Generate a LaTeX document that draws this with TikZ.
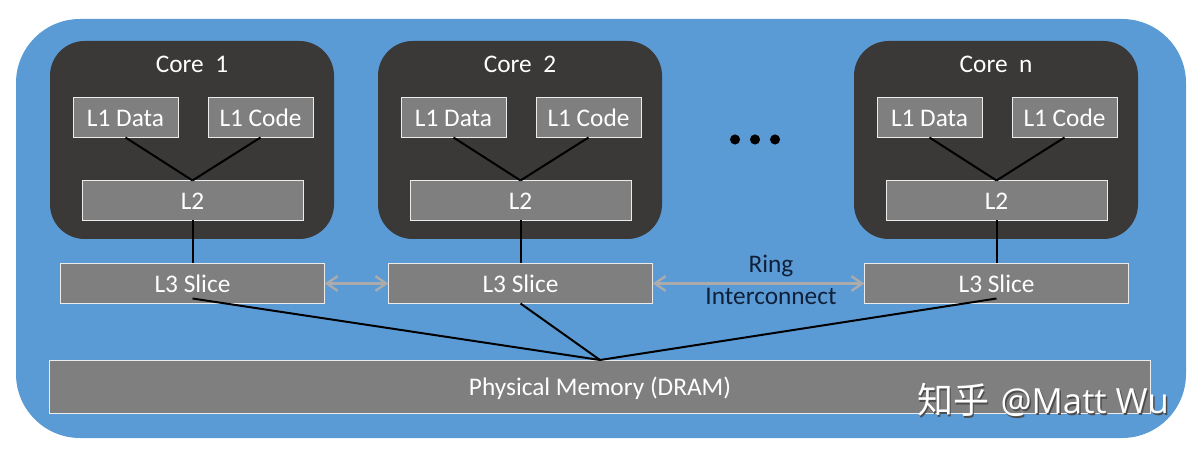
\documentclass[tikz,border=0pt]{standalone}
\usepackage{fontspec}
\setmainfont{Carlito}
\newfontfamily\cjkwm{Noto Sans CJK SC}
\newfontfamily\latwm{Open Sans}
\usetikzlibrary{arrows.meta,calc}
\definecolor{panelblue}{HTML}{5B9BD5}
\definecolor{coredark}{HTML}{3B3838}
\definecolor{boxgray}{HTML}{7F7F7F}
\definecolor{ringgray}{HTML}{ABABAB}
\definecolor{ringtext}{HTML}{10203A}
\tikzset{
  x=0.75pt,y=-0.75pt,
  panel/.style={fill=panelblue,draw=none,rounded corners=48pt,minimum width=877.5pt,minimum height=314.25pt,inner sep=0pt,outer sep=0pt},
  core/.style={fill=coredark,draw=none,rounded corners=26pt,minimum width=213pt,minimum height=148.5pt,inner sep=0pt,outer sep=0pt},
  cache/.style 2 args={fill=boxgray,draw=white!85!boxgray,line width=0.75pt,minimum width=#1*0.75pt,minimum height=#2*0.75pt,inner sep=0pt,outer sep=0pt,text=white,text height=15pt,text depth=2pt,font=\fontsize{19}{21}\selectfont},
  title/.style={text=white,font=\fontsize{19}{21}\selectfont,inner sep=0pt},
  link/.style={draw=black,line width=1.5pt},
  ring/.style={draw=ringgray,line width=2.5pt,{Straight Barb[length=8pt,width=11pt,line width=1.8pt]}-{Straight Barb[length=8pt,width=11pt,line width=1.8pt]}},
  ringlabel/.style={text=ringtext,font=\fontsize{19}{21}\selectfont,inner sep=0pt},
  dot/.style={circle,fill=black,minimum size=7.6pt,inner sep=0pt},
}
\begin{document}
\begin{tikzpicture}
\useasboundingbox (0,0) rectangle (1202,452);
\node[panel] (panel) at (601,228.5) {};
\foreach \i/\dx/\lab in {a/0/1,b/328/2,c/804/n}{
  \node[core] (core\i) at (192+\dx,140) {};
  \node[title] (title\i) at (192+\dx,64) {Core\ \ \lab};
  \node[cache={105}{40}] (data\i) at (125.5+\dx,117.5) {L1 Data};
  \node[cache={105}{40}] (code\i) at (260.5+\dx,117.5) {L1 Code};
  \node[cache={221}{40}] (ltwo\i) at (192.5+\dx,200.5) {L2};
  \node[cache={264.5}{40}] (slice\i) at (192.5+\dx,283.5) {L3 Slice};
  \draw[link] (data\i.south) -- (ltwo\i.north);
  \draw[link] (code\i.south) -- (ltwo\i.north);
  \draw[link] (ltwo\i.south) -- (slice\i.north);
}
\node[cache={1101}{53}] (dram) at (600,386.5) {Physical Memory (DRAM)};
\coordinate (sa) at ($(slicea.south)+(0,-5)$);
\coordinate (sc) at ($(slicec.south)+(0,-5)$);
\draw[link] (sa) -- (dram.north);
\draw[link] (sliceb.south) -- (dram.north);
\draw[link] (sc) -- (dram.north);
\draw[ring] (slicea.east) -- (sliceb.west);
\draw[ring] (sliceb.east) -- (slicec.west);
\node[ringlabel] (ringa) at (771,266) {Ring};
\node[ringlabel] (ringb) at (771,296) {Interconnect};
\node[dot] (d1) at (735,139.5) {};
\node[dot] (d2) at (755,139.5) {};
\node[dot] (d3) at (775,139.5) {};
\node[text=black!70,inner sep=0pt,anchor=west] (wms) at (918.5,401.5) {{\fontsize{27}{30}\selectfont\cjkwm 知乎}\,{\fontsize{26}{30}\selectfont\latwm\ @Matt Wu}};
\node[text=white,inner sep=0pt,anchor=west] (wm) at (917,400) {{\fontsize{27}{30}\selectfont\cjkwm 知乎}\,{\fontsize{26}{30}\selectfont\latwm\ @Matt Wu}};
\end{tikzpicture}
\end{document}
